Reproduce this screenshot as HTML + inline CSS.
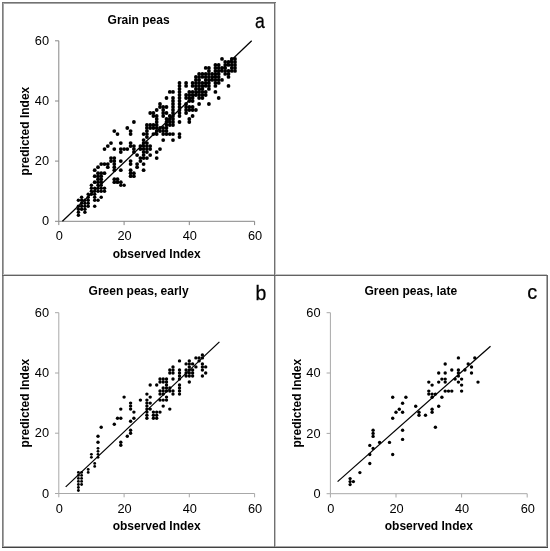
<!DOCTYPE html>
<html><head><meta charset="utf-8"><title>Predicted vs observed Index</title>
<style>
html,body{margin:0;padding:0;background:#fff;}
svg{display:block;}
text{font-family:"Liberation Sans",Arial,sans-serif;fill:#000;}
.t{font-size:12px;font-weight:bold;}
.k{font-size:12.8px;fill:#000;}
.L{font-size:20.5px;stroke:#000;stroke-width:0.25px;}
</style></head><body>
<svg width="550" height="551" viewBox="0 0 550 551">
<rect width="550" height="551" fill="#fff"/>

<g id="frames" shape-rendering="crispEdges">
<rect x="3" y="3" width="1" height="545" fill="#a6a6a6"/>
<rect x="3" y="3" width="272" height="1" fill="#a6a6a6"/>
<rect x="275" y="3" width="1" height="545" fill="#c4c4c4"/>
<rect x="3" y="274" width="544" height="1" fill="#c4c4c4"/>
<rect x="546" y="276" width="1" height="271" fill="#aaaaaa"/>
<rect x="3" y="546" width="544" height="1" fill="#a8a8a8"/>
<rect x="2" y="2" width="1" height="546" fill="#7c7c7c"/>
<rect x="2" y="2" width="274" height="1" fill="#727272"/>
<rect x="274" y="2" width="1" height="546" fill="#707070"/>
<rect x="2" y="275" width="546" height="1" fill="#626262"/>
<rect x="547" y="275" width="1" height="273" fill="#686868"/>
<rect x="2" y="547" width="546" height="1" fill="#424242"/>
</g>
<g id="panel-a">
<path d="M58.8,40.8 V221.3 H254.6 M58.8,221.3 v3.8 M58.8,221.3 h-3.8 M124.1,221.3 v3.8 M58.8,161.1 h-3.8 M189.3,221.3 v3.8 M58.8,101.0 h-3.8 M254.6,221.3 v3.8 M58.8,40.8 h-3.8" fill="none" stroke="#868686" stroke-width="1"/>
<text class="k" x="59.3" y="240.4" text-anchor="middle">0</text>
<text class="k" x="49.0" y="225.4" text-anchor="end">0</text>
<text class="k" x="124.6" y="240.4" text-anchor="middle">20</text>
<text class="k" x="49.0" y="165.2" text-anchor="end">20</text>
<text class="k" x="189.8" y="240.4" text-anchor="middle">40</text>
<text class="k" x="49.0" y="105.1" text-anchor="end">40</text>
<text class="k" x="255.1" y="240.4" text-anchor="middle">60</text>
<text class="k" x="49.0" y="44.9" text-anchor="end">60</text>
<text class="t" x="156.7" y="257.5" text-anchor="middle">observed Index</text>
<text class="t" transform="translate(29.0,131.1) rotate(-90)" text-anchor="middle">predicted Index</text>
<text class="t" x="138.6" y="23.7" text-anchor="middle">Grain peas</text>
<text class="L" transform="translate(255.0,27.9) scale(0.86,1)">a</text>
<g fill="#000"><circle cx="78.4" cy="215.3" r="1.75"/><circle cx="78.4" cy="212.3" r="1.75"/><circle cx="78.4" cy="209.3" r="1.75"/><circle cx="78.4" cy="206.3" r="1.75"/><circle cx="78.4" cy="200.2" r="1.75"/><circle cx="81.6" cy="209.3" r="1.75"/><circle cx="81.6" cy="206.3" r="1.75"/><circle cx="81.6" cy="203.2" r="1.75"/><circle cx="81.6" cy="200.2" r="1.75"/><circle cx="81.6" cy="197.2" r="1.75"/><circle cx="84.9" cy="212.3" r="1.75"/><circle cx="84.9" cy="209.3" r="1.75"/><circle cx="84.9" cy="206.3" r="1.75"/><circle cx="84.9" cy="203.2" r="1.75"/><circle cx="84.9" cy="200.2" r="1.75"/><circle cx="88.2" cy="206.3" r="1.75"/><circle cx="88.2" cy="203.2" r="1.75"/><circle cx="88.2" cy="200.2" r="1.75"/><circle cx="88.2" cy="197.2" r="1.75"/><circle cx="88.2" cy="194.2" r="1.75"/><circle cx="91.4" cy="194.2" r="1.75"/><circle cx="91.4" cy="191.2" r="1.75"/><circle cx="91.4" cy="188.2" r="1.75"/><circle cx="91.4" cy="185.2" r="1.75"/><circle cx="94.7" cy="206.3" r="1.75"/><circle cx="94.7" cy="200.2" r="1.75"/><circle cx="94.7" cy="197.2" r="1.75"/><circle cx="94.7" cy="194.2" r="1.75"/><circle cx="94.7" cy="191.2" r="1.75"/><circle cx="94.7" cy="188.2" r="1.75"/><circle cx="94.7" cy="182.2" r="1.9"/><circle cx="94.7" cy="176.2" r="1.9"/><circle cx="94.7" cy="170.2" r="1.9"/><circle cx="98.0" cy="200.2" r="1.75"/><circle cx="98.0" cy="191.2" r="1.75"/><circle cx="98.0" cy="188.2" r="1.75"/><circle cx="98.0" cy="185.2" r="1.75"/><circle cx="98.0" cy="182.2" r="1.9"/><circle cx="98.0" cy="179.2" r="1.9"/><circle cx="98.0" cy="176.2" r="1.9"/><circle cx="98.0" cy="173.2" r="1.9"/><circle cx="98.0" cy="167.2" r="1.9"/><circle cx="101.2" cy="197.2" r="1.75"/><circle cx="101.2" cy="191.2" r="1.75"/><circle cx="101.2" cy="188.2" r="1.75"/><circle cx="101.2" cy="185.2" r="1.75"/><circle cx="101.2" cy="182.2" r="1.9"/><circle cx="101.2" cy="179.2" r="1.9"/><circle cx="101.2" cy="176.2" r="1.9"/><circle cx="101.2" cy="173.2" r="1.9"/><circle cx="101.2" cy="164.1" r="1.9"/><circle cx="104.5" cy="191.2" r="1.75"/><circle cx="104.5" cy="188.2" r="1.75"/><circle cx="104.5" cy="173.2" r="1.9"/><circle cx="104.5" cy="164.1" r="1.9"/><circle cx="104.5" cy="149.1" r="1.9"/><circle cx="107.8" cy="167.2" r="1.9"/><circle cx="107.8" cy="164.1" r="1.9"/><circle cx="107.8" cy="146.1" r="1.9"/><circle cx="111.0" cy="161.1" r="1.9"/><circle cx="111.0" cy="158.1" r="1.9"/><circle cx="111.0" cy="143.1" r="1.9"/><circle cx="114.3" cy="182.2" r="1.9"/><circle cx="114.3" cy="179.2" r="1.9"/><circle cx="114.3" cy="170.2" r="1.9"/><circle cx="114.3" cy="167.2" r="1.9"/><circle cx="114.3" cy="164.1" r="1.9"/><circle cx="114.3" cy="161.1" r="1.9"/><circle cx="114.3" cy="158.1" r="1.9"/><circle cx="114.3" cy="149.1" r="1.9"/><circle cx="114.3" cy="131.1" r="1.9"/><circle cx="117.5" cy="182.2" r="1.9"/><circle cx="117.5" cy="179.2" r="1.9"/><circle cx="117.5" cy="134.1" r="1.9"/><circle cx="120.8" cy="185.2" r="1.75"/><circle cx="120.8" cy="182.2" r="1.9"/><circle cx="120.8" cy="170.2" r="1.9"/><circle cx="120.8" cy="161.1" r="1.9"/><circle cx="120.8" cy="152.1" r="1.9"/><circle cx="120.8" cy="149.1" r="1.9"/><circle cx="120.8" cy="143.1" r="1.9"/><circle cx="124.1" cy="185.2" r="1.75"/><circle cx="124.1" cy="149.1" r="1.9"/><circle cx="127.3" cy="149.1" r="1.9"/><circle cx="127.3" cy="128.0" r="1.9"/><circle cx="130.6" cy="176.2" r="1.9"/><circle cx="130.6" cy="173.2" r="1.9"/><circle cx="130.6" cy="170.2" r="1.9"/><circle cx="130.6" cy="164.1" r="1.9"/><circle cx="130.6" cy="161.1" r="1.9"/><circle cx="130.6" cy="146.1" r="1.9"/><circle cx="130.6" cy="143.1" r="1.9"/><circle cx="130.6" cy="134.1" r="1.9"/><circle cx="130.6" cy="131.1" r="1.9"/><circle cx="133.9" cy="176.2" r="1.9"/><circle cx="133.9" cy="173.2" r="1.9"/><circle cx="133.9" cy="152.1" r="1.9"/><circle cx="133.9" cy="149.1" r="1.9"/><circle cx="133.9" cy="146.1" r="1.9"/><circle cx="133.9" cy="122.0" r="1.9"/><circle cx="137.1" cy="167.2" r="1.9"/><circle cx="137.1" cy="164.1" r="1.9"/><circle cx="137.1" cy="155.1" r="1.9"/><circle cx="140.4" cy="161.1" r="1.9"/><circle cx="140.4" cy="158.1" r="1.9"/><circle cx="140.4" cy="149.1" r="1.9"/><circle cx="140.4" cy="146.1" r="1.9"/><circle cx="143.6" cy="170.2" r="1.9"/><circle cx="143.6" cy="164.1" r="1.9"/><circle cx="143.6" cy="158.1" r="1.9"/><circle cx="143.6" cy="155.1" r="1.9"/><circle cx="143.6" cy="152.1" r="1.9"/><circle cx="143.6" cy="149.1" r="1.9"/><circle cx="143.6" cy="146.1" r="1.9"/><circle cx="143.6" cy="143.1" r="1.9"/><circle cx="143.6" cy="140.1" r="1.9"/><circle cx="143.6" cy="134.1" r="1.9"/><circle cx="146.9" cy="158.1" r="1.9"/><circle cx="146.9" cy="152.1" r="1.9"/><circle cx="146.9" cy="149.1" r="1.9"/><circle cx="146.9" cy="146.1" r="1.9"/><circle cx="146.9" cy="143.1" r="1.9"/><circle cx="146.9" cy="137.1" r="1.9"/><circle cx="146.9" cy="134.1" r="1.9"/><circle cx="146.9" cy="131.1" r="1.9"/><circle cx="146.9" cy="128.0" r="1.9"/><circle cx="146.9" cy="125.0" r="1.9"/><circle cx="150.2" cy="155.1" r="1.9"/><circle cx="150.2" cy="149.1" r="1.9"/><circle cx="150.2" cy="146.1" r="1.9"/><circle cx="150.2" cy="128.0" r="1.9"/><circle cx="150.2" cy="125.0" r="1.9"/><circle cx="150.2" cy="113.0" r="1.9"/><circle cx="153.4" cy="134.1" r="1.9"/><circle cx="153.4" cy="128.0" r="1.9"/><circle cx="153.4" cy="125.0" r="1.9"/><circle cx="153.4" cy="116.0" r="1.9"/><circle cx="153.4" cy="113.0" r="1.9"/><circle cx="156.7" cy="158.1" r="1.9"/><circle cx="156.7" cy="152.1" r="1.9"/><circle cx="156.7" cy="134.1" r="1.9"/><circle cx="156.7" cy="131.1" r="1.9"/><circle cx="156.7" cy="128.0" r="1.9"/><circle cx="156.7" cy="125.0" r="1.9"/><circle cx="156.7" cy="122.0" r="1.9"/><circle cx="156.7" cy="119.0" r="1.9"/><circle cx="156.7" cy="116.0" r="1.9"/><circle cx="156.7" cy="110.0" r="1.9"/><circle cx="160.0" cy="149.1" r="1.9"/><circle cx="160.0" cy="131.1" r="1.9"/><circle cx="160.0" cy="128.0" r="1.9"/><circle cx="160.0" cy="107.0" r="1.9"/><circle cx="160.0" cy="104.0" r="1.9"/><circle cx="163.2" cy="140.1" r="1.9"/><circle cx="163.2" cy="134.1" r="1.9"/><circle cx="163.2" cy="131.1" r="1.9"/><circle cx="163.2" cy="128.0" r="1.9"/><circle cx="163.2" cy="116.0" r="1.9"/><circle cx="163.2" cy="113.0" r="1.9"/><circle cx="163.2" cy="110.0" r="1.9"/><circle cx="163.2" cy="107.0" r="1.9"/><circle cx="166.5" cy="134.1" r="1.9"/><circle cx="166.5" cy="131.1" r="1.9"/><circle cx="166.5" cy="128.0" r="1.9"/><circle cx="166.5" cy="125.0" r="1.9"/><circle cx="166.5" cy="122.0" r="1.9"/><circle cx="166.5" cy="119.0" r="1.9"/><circle cx="166.5" cy="113.0" r="1.9"/><circle cx="166.5" cy="107.0" r="1.9"/><circle cx="166.5" cy="98.0" r="1.9"/><circle cx="169.8" cy="134.1" r="1.9"/><circle cx="169.8" cy="125.0" r="1.9"/><circle cx="169.8" cy="122.0" r="1.9"/><circle cx="169.8" cy="119.0" r="1.9"/><circle cx="169.8" cy="116.0" r="1.9"/><circle cx="169.8" cy="91.9" r="1.9"/><circle cx="173.0" cy="140.1" r="1.9"/><circle cx="173.0" cy="134.1" r="1.9"/><circle cx="173.0" cy="125.0" r="1.9"/><circle cx="173.0" cy="122.0" r="1.9"/><circle cx="173.0" cy="119.0" r="1.9"/><circle cx="173.0" cy="116.0" r="1.9"/><circle cx="173.0" cy="113.0" r="1.9"/><circle cx="173.0" cy="110.0" r="1.9"/><circle cx="173.0" cy="107.0" r="1.9"/><circle cx="173.0" cy="104.0" r="1.9"/><circle cx="173.0" cy="101.0" r="1.9"/><circle cx="173.0" cy="98.0" r="1.9"/><circle cx="173.0" cy="91.9" r="1.9"/><circle cx="179.5" cy="137.1" r="1.9"/><circle cx="179.5" cy="134.1" r="1.9"/><circle cx="179.5" cy="122.0" r="1.9"/><circle cx="179.5" cy="116.0" r="1.9"/><circle cx="179.5" cy="113.0" r="1.9"/><circle cx="179.5" cy="110.0" r="1.9"/><circle cx="179.5" cy="107.0" r="1.9"/><circle cx="179.5" cy="104.0" r="1.9"/><circle cx="179.5" cy="101.0" r="1.9"/><circle cx="179.5" cy="98.0" r="1.9"/><circle cx="179.5" cy="95.0" r="1.9"/><circle cx="179.5" cy="91.9" r="1.9"/><circle cx="179.5" cy="88.9" r="1.9"/><circle cx="179.5" cy="85.9" r="1.9"/><circle cx="179.5" cy="82.9" r="1.9"/><circle cx="186.1" cy="113.0" r="1.9"/><circle cx="186.1" cy="110.0" r="1.9"/><circle cx="186.1" cy="107.0" r="1.9"/><circle cx="186.1" cy="104.0" r="1.9"/><circle cx="186.1" cy="98.0" r="1.9"/><circle cx="186.1" cy="95.0" r="1.9"/><circle cx="186.1" cy="85.9" r="1.9"/><circle cx="186.1" cy="82.9" r="1.9"/><circle cx="189.3" cy="122.0" r="1.9"/><circle cx="189.3" cy="119.0" r="1.9"/><circle cx="189.3" cy="110.0" r="1.9"/><circle cx="189.3" cy="107.0" r="1.9"/><circle cx="189.3" cy="101.0" r="1.9"/><circle cx="189.3" cy="98.0" r="1.9"/><circle cx="189.3" cy="95.0" r="1.9"/><circle cx="189.3" cy="91.9" r="1.9"/><circle cx="192.6" cy="116.0" r="1.9"/><circle cx="192.6" cy="110.0" r="1.9"/><circle cx="192.6" cy="107.0" r="1.9"/><circle cx="192.6" cy="101.0" r="1.9"/><circle cx="192.6" cy="98.0" r="1.9"/><circle cx="192.6" cy="95.0" r="1.9"/><circle cx="192.6" cy="91.9" r="1.9"/><circle cx="192.6" cy="85.9" r="1.9"/><circle cx="192.6" cy="82.9" r="1.9"/><circle cx="195.9" cy="110.0" r="1.9"/><circle cx="195.9" cy="95.0" r="1.9"/><circle cx="195.9" cy="91.9" r="1.9"/><circle cx="195.9" cy="88.9" r="1.9"/><circle cx="195.9" cy="85.9" r="1.9"/><circle cx="195.9" cy="82.9" r="1.9"/><circle cx="195.9" cy="79.9" r="1.9"/><circle cx="195.9" cy="76.9" r="1.9"/><circle cx="199.1" cy="104.0" r="1.9"/><circle cx="199.1" cy="98.0" r="1.9"/><circle cx="199.1" cy="95.0" r="1.9"/><circle cx="199.1" cy="91.9" r="1.9"/><circle cx="199.1" cy="88.9" r="1.9"/><circle cx="199.1" cy="85.9" r="1.9"/><circle cx="199.1" cy="82.9" r="1.9"/><circle cx="199.1" cy="79.9" r="1.9"/><circle cx="199.1" cy="76.9" r="1.9"/><circle cx="199.1" cy="73.9" r="1.9"/><circle cx="202.4" cy="98.0" r="1.9"/><circle cx="202.4" cy="95.0" r="1.9"/><circle cx="202.4" cy="91.9" r="1.9"/><circle cx="202.4" cy="88.9" r="1.9"/><circle cx="202.4" cy="85.9" r="1.9"/><circle cx="202.4" cy="82.9" r="1.9"/><circle cx="202.4" cy="76.9" r="1.9"/><circle cx="202.4" cy="73.9" r="1.9"/><circle cx="205.7" cy="95.0" r="1.9"/><circle cx="205.7" cy="91.9" r="1.9"/><circle cx="205.7" cy="85.9" r="1.9"/><circle cx="205.7" cy="82.9" r="1.9"/><circle cx="205.7" cy="79.9" r="1.9"/><circle cx="205.7" cy="76.9" r="1.9"/><circle cx="205.7" cy="73.9" r="1.9"/><circle cx="205.7" cy="67.9" r="1.9"/><circle cx="208.9" cy="104.0" r="1.9"/><circle cx="208.9" cy="88.9" r="1.9"/><circle cx="208.9" cy="85.9" r="1.9"/><circle cx="208.9" cy="82.9" r="1.9"/><circle cx="208.9" cy="79.9" r="1.9"/><circle cx="208.9" cy="76.9" r="1.9"/><circle cx="208.9" cy="73.9" r="1.9"/><circle cx="208.9" cy="70.9" r="1.9"/><circle cx="208.9" cy="67.9" r="1.9"/><circle cx="212.2" cy="79.9" r="1.9"/><circle cx="212.2" cy="76.9" r="1.9"/><circle cx="212.2" cy="73.9" r="1.9"/><circle cx="215.4" cy="91.9" r="1.9"/><circle cx="215.4" cy="85.9" r="1.9"/><circle cx="215.4" cy="82.9" r="1.9"/><circle cx="215.4" cy="79.9" r="1.9"/><circle cx="215.4" cy="76.9" r="1.9"/><circle cx="215.4" cy="73.9" r="1.9"/><circle cx="215.4" cy="70.9" r="1.9"/><circle cx="215.4" cy="67.9" r="1.9"/><circle cx="215.4" cy="64.9" r="1.9"/><circle cx="218.7" cy="98.0" r="1.9"/><circle cx="218.7" cy="82.9" r="1.9"/><circle cx="218.7" cy="79.9" r="1.9"/><circle cx="218.7" cy="76.9" r="1.9"/><circle cx="218.7" cy="73.9" r="1.9"/><circle cx="218.7" cy="70.9" r="1.9"/><circle cx="218.7" cy="67.9" r="1.9"/><circle cx="218.7" cy="64.9" r="1.9"/><circle cx="222.0" cy="79.9" r="1.9"/><circle cx="222.0" cy="70.9" r="1.9"/><circle cx="222.0" cy="67.9" r="1.9"/><circle cx="222.0" cy="58.9" r="1.9"/><circle cx="225.2" cy="73.9" r="1.9"/><circle cx="225.2" cy="70.9" r="1.9"/><circle cx="225.2" cy="67.9" r="1.9"/><circle cx="225.2" cy="64.9" r="1.9"/><circle cx="225.2" cy="61.9" r="1.9"/><circle cx="228.5" cy="85.9" r="1.9"/><circle cx="228.5" cy="76.9" r="1.9"/><circle cx="228.5" cy="73.9" r="1.9"/><circle cx="228.5" cy="70.9" r="1.9"/><circle cx="228.5" cy="64.9" r="1.9"/><circle cx="228.5" cy="61.9" r="1.9"/><circle cx="231.8" cy="70.9" r="1.9"/><circle cx="231.8" cy="67.9" r="1.9"/><circle cx="231.8" cy="64.9" r="1.9"/><circle cx="231.8" cy="61.9" r="1.9"/><circle cx="231.8" cy="58.9" r="1.9"/><circle cx="235.0" cy="70.9" r="1.9"/><circle cx="235.0" cy="67.9" r="1.9"/><circle cx="235.0" cy="64.9" r="1.9"/><circle cx="235.0" cy="61.9" r="1.9"/><circle cx="235.0" cy="58.9" r="1.9"/></g>
<line x1="62.4" y1="221.3" x2="251.7" y2="40.8" stroke="#000" stroke-width="1.25"/>
</g>
<g id="panel-b">
<path d="M58.8,312.7 V493.5 H254.6 M58.8,493.5 v3.8 M58.8,493.5 h-3.8 M124.1,493.5 v3.8 M58.8,433.2 h-3.8 M189.3,493.5 v3.8 M58.8,373.0 h-3.8 M254.6,493.5 v3.8 M58.8,312.7 h-3.8" fill="none" stroke="#a8a8a8" stroke-width="1"/>
<text class="k" x="59.3" y="512.6" text-anchor="middle">0</text>
<text class="k" x="49.0" y="497.6" text-anchor="end">0</text>
<text class="k" x="124.6" y="512.6" text-anchor="middle">20</text>
<text class="k" x="49.0" y="437.3" text-anchor="end">20</text>
<text class="k" x="189.8" y="512.6" text-anchor="middle">40</text>
<text class="k" x="49.0" y="377.1" text-anchor="end">40</text>
<text class="k" x="255.1" y="512.6" text-anchor="middle">60</text>
<text class="k" x="49.0" y="316.8" text-anchor="end">60</text>
<text class="t" x="156.7" y="529.7" text-anchor="middle">observed Index</text>
<text class="t" transform="translate(29.0,403.1) rotate(-90)" text-anchor="middle">predicted Index</text>
<text class="t" x="138.6" y="295" text-anchor="middle">Green peas, early</text>
<text class="L" transform="translate(255.5,300) scale(0.95,1)">b</text>
<g fill="#000"><circle cx="78.4" cy="490.5" r="1.42"/><circle cx="78.4" cy="487.5" r="1.42"/><circle cx="78.4" cy="484.5" r="1.42"/><circle cx="78.4" cy="481.4" r="1.42"/><circle cx="78.4" cy="478.4" r="1.42"/><circle cx="78.4" cy="475.4" r="1.42"/><circle cx="78.4" cy="472.4" r="1.42"/><circle cx="81.6" cy="484.5" r="1.42"/><circle cx="81.6" cy="481.4" r="1.42"/><circle cx="81.6" cy="478.4" r="1.42"/><circle cx="81.6" cy="475.4" r="1.42"/><circle cx="81.6" cy="472.4" r="1.42"/><circle cx="88.2" cy="472.4" r="1.42"/><circle cx="88.2" cy="469.4" r="1.42"/><circle cx="91.4" cy="457.3" r="1.42"/><circle cx="91.4" cy="454.3" r="1.42"/><circle cx="94.7" cy="466.4" r="1.42"/><circle cx="94.7" cy="463.4" r="1.42"/><circle cx="98.0" cy="457.3" r="1.42"/><circle cx="98.0" cy="454.3" r="1.42"/><circle cx="98.0" cy="451.3" r="1.42"/><circle cx="98.0" cy="448.3" r="1.42"/><circle cx="98.0" cy="442.3" r="1.7"/><circle cx="98.0" cy="436.2" r="1.7"/><circle cx="101.2" cy="427.2" r="1.7"/><circle cx="114.3" cy="424.2" r="1.7"/><circle cx="117.5" cy="418.2" r="1.7"/><circle cx="120.8" cy="445.3" r="1.7"/><circle cx="120.8" cy="442.3" r="1.7"/><circle cx="120.8" cy="418.2" r="1.7"/><circle cx="120.8" cy="409.1" r="1.7"/><circle cx="124.1" cy="397.1" r="1.7"/><circle cx="127.3" cy="436.2" r="1.7"/><circle cx="130.6" cy="433.2" r="1.7"/><circle cx="130.6" cy="430.2" r="1.7"/><circle cx="130.6" cy="421.2" r="1.7"/><circle cx="130.6" cy="409.1" r="1.7"/><circle cx="130.6" cy="406.1" r="1.7"/><circle cx="130.6" cy="403.1" r="1.7"/><circle cx="133.9" cy="418.2" r="1.7"/><circle cx="133.9" cy="412.1" r="1.7"/><circle cx="140.4" cy="400.1" r="1.7"/><circle cx="146.9" cy="418.2" r="1.7"/><circle cx="146.9" cy="415.2" r="1.7"/><circle cx="146.9" cy="412.1" r="1.7"/><circle cx="146.9" cy="409.1" r="1.7"/><circle cx="146.9" cy="406.1" r="1.7"/><circle cx="146.9" cy="403.1" r="1.7"/><circle cx="146.9" cy="400.1" r="1.7"/><circle cx="146.9" cy="394.1" r="1.7"/><circle cx="150.2" cy="409.1" r="1.7"/><circle cx="150.2" cy="403.1" r="1.7"/><circle cx="150.2" cy="397.1" r="1.7"/><circle cx="150.2" cy="385.0" r="1.7"/><circle cx="153.4" cy="418.2" r="1.7"/><circle cx="153.4" cy="415.2" r="1.7"/><circle cx="153.4" cy="412.1" r="1.7"/><circle cx="156.7" cy="418.2" r="1.7"/><circle cx="156.7" cy="415.2" r="1.7"/><circle cx="156.7" cy="412.1" r="1.7"/><circle cx="156.7" cy="385.0" r="1.7"/><circle cx="160.0" cy="412.1" r="1.7"/><circle cx="160.0" cy="400.1" r="1.7"/><circle cx="160.0" cy="394.1" r="1.7"/><circle cx="160.0" cy="391.0" r="1.7"/><circle cx="160.0" cy="382.0" r="1.7"/><circle cx="160.0" cy="379.0" r="1.7"/><circle cx="163.2" cy="406.1" r="1.7"/><circle cx="163.2" cy="400.1" r="1.7"/><circle cx="163.2" cy="394.1" r="1.7"/><circle cx="163.2" cy="391.0" r="1.7"/><circle cx="163.2" cy="388.0" r="1.7"/><circle cx="163.2" cy="382.0" r="1.7"/><circle cx="163.2" cy="379.0" r="1.7"/><circle cx="166.5" cy="400.1" r="1.7"/><circle cx="166.5" cy="397.1" r="1.7"/><circle cx="166.5" cy="391.0" r="1.7"/><circle cx="166.5" cy="388.0" r="1.7"/><circle cx="166.5" cy="385.0" r="1.7"/><circle cx="166.5" cy="382.0" r="1.7"/><circle cx="166.5" cy="379.0" r="1.7"/><circle cx="169.8" cy="409.1" r="1.7"/><circle cx="169.8" cy="391.0" r="1.7"/><circle cx="169.8" cy="388.0" r="1.7"/><circle cx="169.8" cy="373.0" r="1.7"/><circle cx="169.8" cy="370.0" r="1.7"/><circle cx="173.0" cy="394.1" r="1.7"/><circle cx="173.0" cy="391.0" r="1.7"/><circle cx="173.0" cy="379.0" r="1.7"/><circle cx="173.0" cy="373.0" r="1.7"/><circle cx="173.0" cy="370.0" r="1.7"/><circle cx="173.0" cy="366.9" r="1.7"/><circle cx="179.5" cy="394.1" r="1.7"/><circle cx="179.5" cy="391.0" r="1.7"/><circle cx="179.5" cy="388.0" r="1.7"/><circle cx="179.5" cy="385.0" r="1.7"/><circle cx="179.5" cy="379.0" r="1.7"/><circle cx="179.5" cy="376.0" r="1.7"/><circle cx="179.5" cy="373.0" r="1.7"/><circle cx="179.5" cy="370.0" r="1.7"/><circle cx="179.5" cy="360.9" r="1.7"/><circle cx="186.1" cy="376.0" r="1.7"/><circle cx="186.1" cy="373.0" r="1.7"/><circle cx="186.1" cy="370.0" r="1.7"/><circle cx="186.1" cy="363.9" r="1.7"/><circle cx="189.3" cy="382.0" r="1.7"/><circle cx="189.3" cy="376.0" r="1.7"/><circle cx="189.3" cy="373.0" r="1.7"/><circle cx="189.3" cy="370.0" r="1.7"/><circle cx="189.3" cy="366.9" r="1.7"/><circle cx="189.3" cy="363.9" r="1.7"/><circle cx="189.3" cy="360.9" r="1.7"/><circle cx="192.6" cy="376.0" r="1.7"/><circle cx="192.6" cy="373.0" r="1.7"/><circle cx="192.6" cy="370.0" r="1.7"/><circle cx="192.6" cy="363.9" r="1.7"/><circle cx="195.9" cy="366.9" r="1.7"/><circle cx="195.9" cy="357.9" r="1.7"/><circle cx="199.1" cy="360.9" r="1.7"/><circle cx="199.1" cy="357.9" r="1.7"/><circle cx="202.4" cy="376.0" r="1.7"/><circle cx="202.4" cy="370.0" r="1.7"/><circle cx="202.4" cy="366.9" r="1.7"/><circle cx="202.4" cy="363.9" r="1.7"/><circle cx="202.4" cy="357.9" r="1.7"/><circle cx="202.4" cy="354.9" r="1.7"/><circle cx="205.7" cy="373.0" r="1.7"/><circle cx="205.7" cy="366.9" r="1.7"/></g>
<line x1="65.7" y1="486.9" x2="219.4" y2="341.9" stroke="#000" stroke-width="1.25"/>
</g>
<g id="panel-c">
<path d="M330.4,312.7 V493.7 H527.2 M330.4,493.7 v3.8 M330.4,493.7 h-3.8 M396.0,493.7 v3.8 M330.4,433.4 h-3.8 M461.6,493.7 v3.8 M330.4,373.0 h-3.8 M527.2,493.7 v3.8 M330.4,312.7 h-3.8" fill="none" stroke="#a8a8a8" stroke-width="1"/>
<text class="k" x="330.9" y="512.8" text-anchor="middle">0</text>
<text class="k" x="320.6" y="497.8" text-anchor="end">0</text>
<text class="k" x="396.5" y="512.8" text-anchor="middle">20</text>
<text class="k" x="320.6" y="437.5" text-anchor="end">20</text>
<text class="k" x="462.1" y="512.8" text-anchor="middle">40</text>
<text class="k" x="320.6" y="377.1" text-anchor="end">40</text>
<text class="k" x="527.8" y="512.8" text-anchor="middle">60</text>
<text class="k" x="320.6" y="316.8" text-anchor="end">60</text>
<text class="t" x="428.8" y="529.9" text-anchor="middle">observed Index</text>
<text class="t" transform="translate(300.6,403.2) rotate(-90)" text-anchor="middle">predicted Index</text>
<text class="t" x="410.85" y="295" text-anchor="middle">Green peas, late</text>
<text class="L" transform="translate(527.3,299) scale(0.97,1)">c</text>
<g fill="#000"><circle cx="350.1" cy="484.6" r="1.65"/><circle cx="350.1" cy="481.6" r="1.65"/><circle cx="350.1" cy="478.6" r="1.65"/><circle cx="353.4" cy="481.6" r="1.65"/><circle cx="359.9" cy="472.6" r="1.65"/><circle cx="369.8" cy="463.5" r="1.65"/><circle cx="369.8" cy="454.5" r="1.65"/><circle cx="369.8" cy="445.4" r="1.65"/><circle cx="373.1" cy="448.4" r="1.65"/><circle cx="373.1" cy="436.4" r="1.7"/><circle cx="373.1" cy="433.4" r="1.7"/><circle cx="373.1" cy="430.3" r="1.7"/><circle cx="379.6" cy="442.4" r="1.7"/><circle cx="389.5" cy="442.4" r="1.7"/><circle cx="392.7" cy="454.5" r="1.65"/><circle cx="392.7" cy="418.3" r="1.7"/><circle cx="392.7" cy="397.2" r="1.7"/><circle cx="396.0" cy="412.2" r="1.7"/><circle cx="399.3" cy="409.2" r="1.7"/><circle cx="402.6" cy="439.4" r="1.7"/><circle cx="402.6" cy="430.3" r="1.7"/><circle cx="402.6" cy="412.2" r="1.7"/><circle cx="402.6" cy="403.2" r="1.7"/><circle cx="405.9" cy="397.2" r="1.7"/><circle cx="415.7" cy="406.2" r="1.7"/><circle cx="419.0" cy="415.3" r="1.7"/><circle cx="419.0" cy="412.2" r="1.7"/><circle cx="425.5" cy="415.3" r="1.7"/><circle cx="428.8" cy="394.1" r="1.7"/><circle cx="428.8" cy="391.1" r="1.7"/><circle cx="428.8" cy="382.1" r="1.7"/><circle cx="432.1" cy="412.2" r="1.7"/><circle cx="432.1" cy="409.2" r="1.7"/><circle cx="432.1" cy="397.2" r="1.7"/><circle cx="432.1" cy="394.1" r="1.7"/><circle cx="432.1" cy="385.1" r="1.7"/><circle cx="435.4" cy="427.3" r="1.7"/><circle cx="435.4" cy="394.1" r="1.7"/><circle cx="438.7" cy="406.2" r="1.7"/><circle cx="438.7" cy="382.1" r="1.7"/><circle cx="438.7" cy="373.0" r="1.7"/><circle cx="441.9" cy="397.2" r="1.7"/><circle cx="441.9" cy="379.1" r="1.7"/><circle cx="445.2" cy="391.1" r="1.7"/><circle cx="445.2" cy="382.1" r="1.7"/><circle cx="445.2" cy="379.1" r="1.7"/><circle cx="445.2" cy="373.0" r="1.7"/><circle cx="445.2" cy="364.0" r="1.7"/><circle cx="448.5" cy="391.1" r="1.7"/><circle cx="451.8" cy="391.1" r="1.7"/><circle cx="451.8" cy="370.0" r="1.7"/><circle cx="455.1" cy="379.1" r="1.7"/><circle cx="458.4" cy="382.1" r="1.7"/><circle cx="458.4" cy="376.1" r="1.7"/><circle cx="458.4" cy="373.0" r="1.7"/><circle cx="458.4" cy="370.0" r="1.7"/><circle cx="458.4" cy="357.9" r="1.7"/><circle cx="461.6" cy="391.1" r="1.7"/><circle cx="461.6" cy="385.1" r="1.7"/><circle cx="461.6" cy="379.1" r="1.7"/><circle cx="464.9" cy="370.0" r="1.7"/><circle cx="468.2" cy="364.0" r="1.7"/><circle cx="471.5" cy="373.0" r="1.7"/><circle cx="471.5" cy="367.0" r="1.7"/><circle cx="474.8" cy="357.9" r="1.7"/><circle cx="478.0" cy="382.1" r="1.7"/></g>
<line x1="337.6" y1="481.6" x2="490.5" y2="346.2" stroke="#000" stroke-width="1.25"/>
</g>
</svg></body></html>
